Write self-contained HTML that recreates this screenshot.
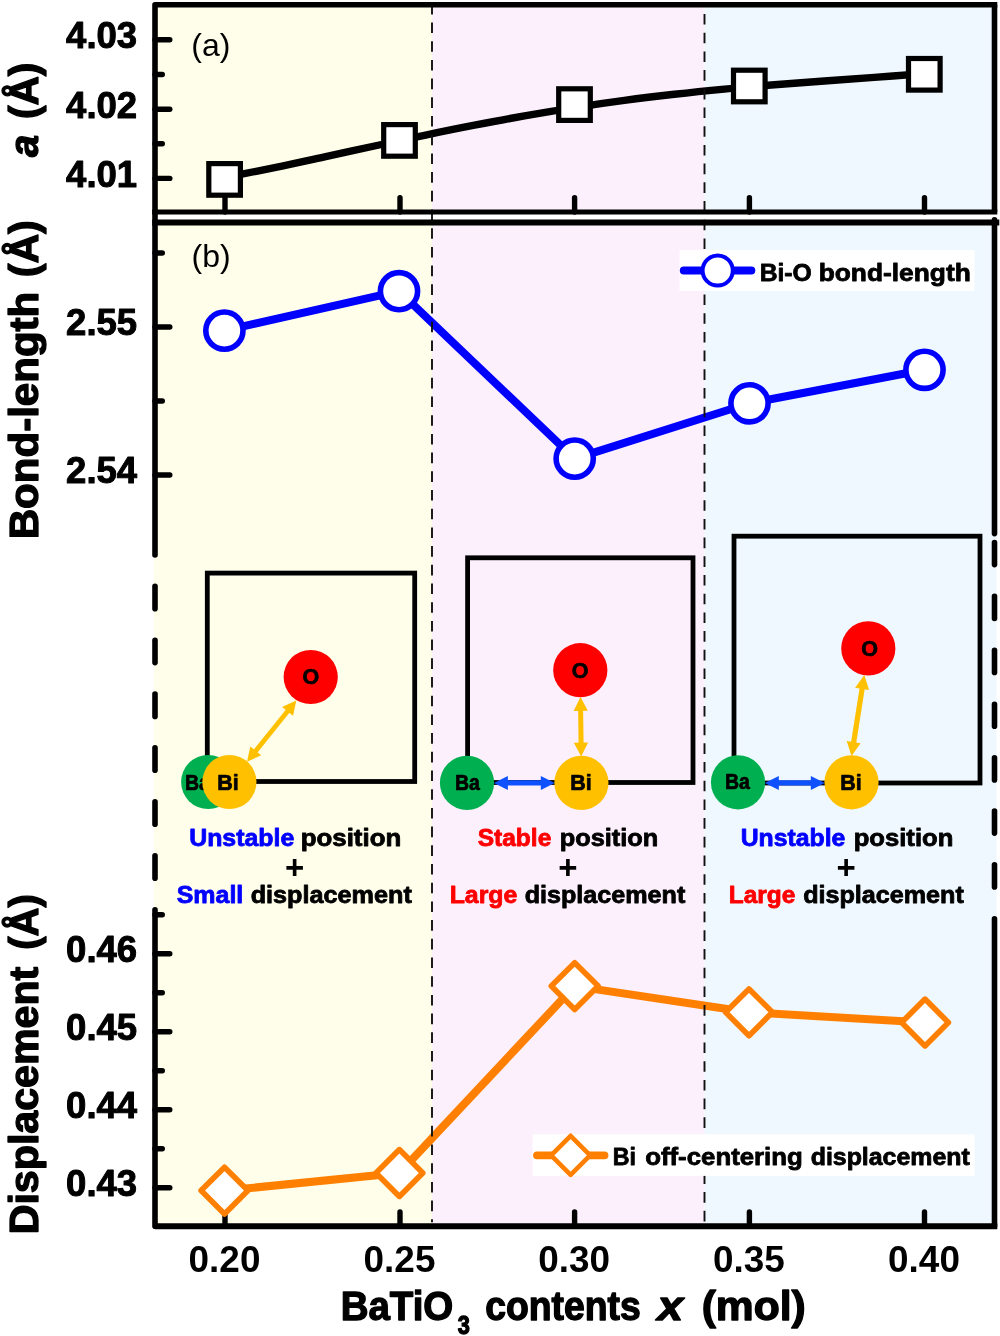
<!DOCTYPE html>
<html lang="en">
<head>
<meta charset="utf-8">
<title>Lattice parameter, Bi-O bond-length and Bi off-centering displacement vs BaTiO3 contents</title>
<style>
html,body{margin:0;padding:0;background:#fff;}
body{width:1000px;height:1336px;overflow:hidden;font-family:"Liberation Sans", sans-serif;}
svg text{font-family:"Liberation Sans", sans-serif;}
</style>
</head>
<body>
<svg width="1000" height="1336" viewBox="0 0 1000 1336" font-family='"Liberation Sans", sans-serif' style="display:block">
<rect x="0" y="0" width="1000" height="1336" fill="#ffffff"/>
<rect x="154.0" y="4.8" width="278.0" height="1221.5" fill="#fefeea"/>
<rect x="432.0" y="4.8" width="272.5" height="1221.5" fill="#fcf0fc"/>
<rect x="704.5" y="4.8" width="292.0" height="1221.5" fill="#eff8fe"/>
<rect x="152.2" y="212.0" width="845.1" height="10.599999999999994" fill="#fff"/>
<path d="M224.6,177.5 C232.9,175.8 257.9,171.0 274.6,167.6 C291.3,164.2 308.0,160.5 324.6,156.9 C341.2,153.3 357.9,149.6 374.5,146.0 C391.1,142.4 407.8,138.8 424.5,135.3 C441.2,131.8 457.8,128.4 474.5,125.2 C491.2,122.0 507.9,118.8 524.5,115.9 C541.1,113.0 557.8,110.2 574.4,107.6 C591.0,105.0 607.7,102.6 624.4,100.4 C641.1,98.2 657.7,96.2 674.4,94.3 C691.1,92.4 707.7,90.7 724.4,89.1 C741.1,87.5 757.8,86.1 774.4,84.8 C791.0,83.5 807.6,82.2 824.3,81.0 C840.9,79.8 857.6,78.6 874.3,77.4 C891.0,76.2 916.0,74.2 924.3,73.6" fill="none" stroke="#000" stroke-width="7.4"/>
<polyline points="224.4,330.6 399.0,291.2 574.7,458.6 749.5,403.3 924.5,369.8" fill="none" stroke="#0000ff" stroke-width="8" stroke-linejoin="round"/>
<polyline points="224.5,1190.6 399.4,1173.0 574.7,986.1 749.0,1012.3 925.0,1022.5" fill="none" stroke="#ff8000" stroke-width="8" stroke-linejoin="round"/>
<line x1="432.0" y1="4.8" x2="432.0" y2="1222.3" stroke="#111" stroke-width="1.9" stroke-dasharray="10.6 8.1" stroke-dashoffset="1.00"/>
<line x1="704.5" y1="4.8" x2="704.5" y2="1222.3" stroke="#111" stroke-width="1.9" stroke-dasharray="10.6 8.1" stroke-dashoffset="9.50"/>
<rect x="679.5" y="249.9" width="295" height="41" fill="#ffffff"/>
<rect x="532.5" y="1134.3" width="442" height="41.6" fill="#ffffff"/>
<line x1="155.0" y1="39.7" x2="169.8" y2="39.7" stroke="#000" stroke-width="5.4" stroke-linecap="round"/>
<line x1="155.0" y1="109.2" x2="169.8" y2="109.2" stroke="#000" stroke-width="5.4" stroke-linecap="round"/>
<line x1="155.0" y1="178.4" x2="169.8" y2="178.4" stroke="#000" stroke-width="5.4" stroke-linecap="round"/>
<line x1="155.0" y1="74.5" x2="162.3" y2="74.5" stroke="#000" stroke-width="5.4" stroke-linecap="round"/>
<line x1="155.0" y1="143.7" x2="162.3" y2="143.7" stroke="#000" stroke-width="5.4" stroke-linecap="round"/>
<line x1="155.0" y1="327.0" x2="169.8" y2="327.0" stroke="#000" stroke-width="5.4" stroke-linecap="round"/>
<line x1="155.0" y1="475.0" x2="169.8" y2="475.0" stroke="#000" stroke-width="5.4" stroke-linecap="round"/>
<line x1="155.0" y1="253.0" x2="162.3" y2="253.0" stroke="#000" stroke-width="5.4" stroke-linecap="round"/>
<line x1="155.0" y1="401.0" x2="162.3" y2="401.0" stroke="#000" stroke-width="5.4" stroke-linecap="round"/>
<line x1="155.0" y1="953.8" x2="169.8" y2="953.8" stroke="#000" stroke-width="5.4" stroke-linecap="round"/>
<line x1="155.0" y1="1031.8" x2="169.8" y2="1031.8" stroke="#000" stroke-width="5.4" stroke-linecap="round"/>
<line x1="155.0" y1="1109.8" x2="169.8" y2="1109.8" stroke="#000" stroke-width="5.4" stroke-linecap="round"/>
<line x1="155.0" y1="1187.8" x2="169.8" y2="1187.8" stroke="#000" stroke-width="5.4" stroke-linecap="round"/>
<line x1="155.0" y1="914.8" x2="162.3" y2="914.8" stroke="#000" stroke-width="5.4" stroke-linecap="round"/>
<line x1="155.0" y1="992.8" x2="162.3" y2="992.8" stroke="#000" stroke-width="5.4" stroke-linecap="round"/>
<line x1="155.0" y1="1070.8" x2="162.3" y2="1070.8" stroke="#000" stroke-width="5.4" stroke-linecap="round"/>
<line x1="155.0" y1="1148.8" x2="162.3" y2="1148.8" stroke="#000" stroke-width="5.4" stroke-linecap="round"/>
<line x1="225.0" y1="212.0" x2="225.0" y2="197.7" stroke="#000" stroke-width="5.4" stroke-linecap="round"/>
<line x1="225.0" y1="1226.3" x2="225.0" y2="1212.0" stroke="#000" stroke-width="5.4" stroke-linecap="round"/>
<line x1="400.0" y1="212.0" x2="400.0" y2="197.7" stroke="#000" stroke-width="5.4" stroke-linecap="round"/>
<line x1="400.0" y1="1226.3" x2="400.0" y2="1212.0" stroke="#000" stroke-width="5.4" stroke-linecap="round"/>
<line x1="574.6" y1="212.0" x2="574.6" y2="197.7" stroke="#000" stroke-width="5.4" stroke-linecap="round"/>
<line x1="574.6" y1="1226.3" x2="574.6" y2="1212.0" stroke="#000" stroke-width="5.4" stroke-linecap="round"/>
<line x1="749.4" y1="212.0" x2="749.4" y2="197.7" stroke="#000" stroke-width="5.4" stroke-linecap="round"/>
<line x1="749.4" y1="1226.3" x2="749.4" y2="1212.0" stroke="#000" stroke-width="5.4" stroke-linecap="round"/>
<line x1="924.5" y1="212.0" x2="924.5" y2="197.7" stroke="#000" stroke-width="5.4" stroke-linecap="round"/>
<line x1="924.5" y1="1226.3" x2="924.5" y2="1212.0" stroke="#000" stroke-width="5.4" stroke-linecap="round"/>
<rect x="208.79999999999998" y="163.6" width="31.6" height="31.6" fill="#fff" stroke="#000" stroke-width="5.2"/>
<rect x="383.7" y="124.60000000000001" width="31.6" height="31.6" fill="#fff" stroke="#000" stroke-width="5.2"/>
<rect x="558.7" y="88.8" width="31.6" height="31.6" fill="#fff" stroke="#000" stroke-width="5.2"/>
<rect x="733.5" y="70.2" width="31.6" height="31.6" fill="#fff" stroke="#000" stroke-width="5.2"/>
<rect x="908.5" y="58.5" width="31.6" height="31.6" fill="#fff" stroke="#000" stroke-width="5.2"/>
<circle cx="224.4" cy="330.6" r="18.6" fill="#fff" stroke="#0000ff" stroke-width="5.6"/>
<circle cx="399.0" cy="291.2" r="18.6" fill="#fff" stroke="#0000ff" stroke-width="5.6"/>
<circle cx="574.7" cy="458.6" r="18.6" fill="#fff" stroke="#0000ff" stroke-width="5.6"/>
<circle cx="749.5" cy="403.3" r="18.6" fill="#fff" stroke="#0000ff" stroke-width="5.6"/>
<circle cx="924.5" cy="369.8" r="18.6" fill="#fff" stroke="#0000ff" stroke-width="5.6"/>
<path d="M224.5,1167.1999999999998 L247.9,1190.6 L224.5,1214.0 L201.1,1190.6 Z" fill="#fff" stroke="#ff8000" stroke-width="5.6" stroke-linejoin="round"/>
<path d="M399.4,1149.6 L422.79999999999995,1173.0 L399.4,1196.4 L376.0,1173.0 Z" fill="#fff" stroke="#ff8000" stroke-width="5.6" stroke-linejoin="round"/>
<path d="M574.7,962.7 L598.1,986.1 L574.7,1009.5 L551.3000000000001,986.1 Z" fill="#fff" stroke="#ff8000" stroke-width="5.6" stroke-linejoin="round"/>
<path d="M749.0,988.9 L772.4,1012.3 L749.0,1035.7 L725.6,1012.3 Z" fill="#fff" stroke="#ff8000" stroke-width="5.6" stroke-linejoin="round"/>
<path d="M925.0,999.1 L948.4,1022.5 L925.0,1045.9 L901.6,1022.5 Z" fill="#fff" stroke="#ff8000" stroke-width="5.6" stroke-linejoin="round"/>
<line x1="155.0" y1="4.8" x2="997.3" y2="4.8" stroke="#000" stroke-width="5.6"/>
<line x1="152.2" y1="212.0" x2="997.3" y2="212.0" stroke="#000" stroke-width="5.2"/>
<line x1="152.2" y1="222.6" x2="999.3" y2="222.6" stroke="#000" stroke-width="6"/>
<line x1="155.0" y1="1226.3" x2="997.3" y2="1226.3" stroke="#000" stroke-width="6"/>
<line x1="155.0" y1="4.8" x2="155.0" y2="555" stroke="#000" stroke-width="5.6" stroke-linecap="round"/>
<line x1="155.0" y1="909.7" x2="155.0" y2="1226.3" stroke="#000" stroke-width="5.6" stroke-linecap="round"/>
<line x1="155.0" y1="586.4" x2="155.0" y2="608.8000000000001" stroke="#000" stroke-width="5.6" stroke-linecap="round"/>
<line x1="155.0" y1="640.1999999999999" x2="155.0" y2="662.6" stroke="#000" stroke-width="5.6" stroke-linecap="round"/>
<line x1="155.0" y1="694.0" x2="155.0" y2="716.4000000000001" stroke="#000" stroke-width="5.6" stroke-linecap="round"/>
<line x1="155.0" y1="747.8" x2="155.0" y2="770.2" stroke="#000" stroke-width="5.6" stroke-linecap="round"/>
<line x1="155.0" y1="801.8" x2="155.0" y2="824.2" stroke="#000" stroke-width="5.6" stroke-linecap="round"/>
<line x1="155.0" y1="855.8" x2="155.0" y2="878.2" stroke="#000" stroke-width="5.6" stroke-linecap="round"/>
<line x1="994.5" y1="4.8" x2="994.5" y2="212.0" stroke="#000" stroke-width="5.6"/>
<line x1="994.5" y1="219.79999999999998" x2="994.5" y2="533.6" stroke="#000" stroke-width="5.6" stroke-linecap="round"/>
<line x1="994.5" y1="918.8" x2="994.5" y2="1226.3" stroke="#000" stroke-width="5.6" stroke-linecap="round"/>
<line x1="994.5" y1="542.5" x2="994.5" y2="564.6000000000001" stroke="#000" stroke-width="5.6" stroke-linecap="round"/>
<line x1="994.5" y1="596.4" x2="994.5" y2="618.5000000000001" stroke="#000" stroke-width="5.6" stroke-linecap="round"/>
<line x1="994.5" y1="650.3" x2="994.5" y2="672.4000000000001" stroke="#000" stroke-width="5.6" stroke-linecap="round"/>
<line x1="994.5" y1="704.1999999999999" x2="994.5" y2="726.3000000000001" stroke="#000" stroke-width="5.6" stroke-linecap="round"/>
<line x1="994.5" y1="757.8" x2="994.5" y2="779.9000000000001" stroke="#000" stroke-width="5.6" stroke-linecap="round"/>
<line x1="994.5" y1="811.0" x2="994.5" y2="833.1000000000001" stroke="#000" stroke-width="5.6" stroke-linecap="round"/>
<line x1="994.5" y1="864.8" x2="994.5" y2="886.9000000000001" stroke="#000" stroke-width="5.6" stroke-linecap="round"/>
<rect x="207.3" y="573.1" width="207.4" height="208.4" fill="none" stroke="#000" stroke-width="4.8"/>
<rect x="467.6" y="557.8" width="225.4" height="224.7" fill="none" stroke="#000" stroke-width="4.8"/>
<rect x="734.0" y="536.2" width="246.0" height="246.8" fill="none" stroke="#000" stroke-width="4.8"/>
<circle cx="208.2" cy="782.0" r="27.1" fill="#00b050"/>
<text x="197.5" y="790.0" font-size="21.7" text-anchor="middle" font-weight="bold" fill="#000" textLength="24.9" lengthAdjust="spacingAndGlyphs" stroke="#000" stroke-width="0.7" stroke-linejoin="round">Ba</text>
<circle cx="229.4" cy="782.0" r="27.1" fill="#ffc000"/>
<text x="227.9" y="790.0" font-size="21.7" text-anchor="middle" font-weight="bold" fill="#000" textLength="21.5" lengthAdjust="spacingAndGlyphs" stroke="#000" stroke-width="0.7" stroke-linejoin="round">Bi</text>
<circle cx="310.7" cy="677.0" r="27.1" fill="#ff0000"/>
<text x="310.8" y="683.8" font-size="21.5" text-anchor="middle" font-weight="bold" fill="#000" stroke="#000" stroke-width="0.7" stroke-linejoin="round">O</text>
<line x1="254.9" y1="752.0" x2="288.4" y2="710.2" stroke="#ffc000" stroke-width="4.7"/>
<path d="M247.0,761.8 L261.2,755.3 L250.3,746.5 Z" fill="#ffc000"/>
<path d="M296.3,700.4 L293.0,715.7 L282.1,706.9 Z" fill="#ffc000"/>
<line x1="506.5" y1="782.9" x2="542.2" y2="782.9" stroke="#0f50ff" stroke-width="5.3"/>
<path d="M493.9,782.9 L507.9,789.9 L507.9,775.9 Z" fill="#0f50ff"/>
<path d="M554.8,782.9 L540.8,789.9 L540.8,775.9 Z" fill="#0f50ff"/>
<circle cx="467.0" cy="782.9" r="27.1" fill="#00b050"/>
<text x="467.4" y="790.0" font-size="21.7" text-anchor="middle" font-weight="bold" fill="#000" textLength="24.9" lengthAdjust="spacingAndGlyphs" stroke="#000" stroke-width="0.7" stroke-linejoin="round">Ba</text>
<circle cx="581.4" cy="782.9" r="27.1" fill="#ffc000"/>
<text x="581.0" y="790.0" font-size="21.7" text-anchor="middle" font-weight="bold" fill="#000" textLength="21.5" lengthAdjust="spacingAndGlyphs" stroke="#000" stroke-width="0.7" stroke-linejoin="round">Bi</text>
<circle cx="580.3" cy="670.2" r="27.1" fill="#ff0000"/>
<text x="580.05" y="678.4" font-size="21.5" text-anchor="middle" font-weight="bold" fill="#000" stroke="#000" stroke-width="0.7" stroke-linejoin="round">O</text>
<line x1="581.1" y1="744.0" x2="580.6" y2="709.4" stroke="#ffc000" stroke-width="5.0"/>
<path d="M581.2,756.4 L588.1,742.5 L573.9,742.7 Z" fill="#ffc000"/>
<path d="M580.5,697.0 L587.8,710.7 L573.6,710.9 Z" fill="#ffc000"/>
<line x1="777.4" y1="782.9" x2="812.2" y2="782.9" stroke="#0f50ff" stroke-width="5.3"/>
<path d="M764.8,782.9 L778.8,789.9 L778.8,775.9 Z" fill="#0f50ff"/>
<path d="M824.8,782.9 L810.8,789.9 L810.8,775.9 Z" fill="#0f50ff"/>
<circle cx="738.0" cy="782.3" r="27.1" fill="#00b050"/>
<text x="737.5" y="788.9" font-size="21.7" text-anchor="middle" font-weight="bold" fill="#000" textLength="24.9" lengthAdjust="spacingAndGlyphs" stroke="#000" stroke-width="0.7" stroke-linejoin="round">Ba</text>
<circle cx="851.5" cy="782.3" r="27.1" fill="#ffc000"/>
<text x="851.1" y="790.0" font-size="21.7" text-anchor="middle" font-weight="bold" fill="#000" textLength="21.5" lengthAdjust="spacingAndGlyphs" stroke="#000" stroke-width="0.7" stroke-linejoin="round">Bi</text>
<circle cx="868.3" cy="648.4" r="27.1" fill="#ff0000"/>
<text x="869.7" y="656.2" font-size="21.5" text-anchor="middle" font-weight="bold" fill="#000" stroke="#000" stroke-width="0.7" stroke-linejoin="round">O</text>
<line x1="853.5" y1="743.5" x2="862.3" y2="687.5" stroke="#ffc000" stroke-width="5.2"/>
<path d="M851.5,755.9 L860.7,743.2 L846.7,741.0 Z" fill="#ffc000"/>
<path d="M864.3,675.1 L869.1,690.0 L855.1,687.8 Z" fill="#ffc000"/>
<text y="846.4" font-size="24.0" font-weight="bold" stroke="#000" stroke-width="0.8" stroke-linejoin="round"><tspan x="189.19" textLength="105.12" lengthAdjust="spacingAndGlyphs" fill="#0000ff" stroke="#0000ff">Unstable</tspan> <tspan x="300.68" textLength="100.64" lengthAdjust="spacingAndGlyphs">position</tspan></text>
<text x="294.6" y="878.6" font-size="33" font-weight="bold" text-anchor="middle">+</text>
<text y="902.6" font-size="24.0" font-weight="bold" stroke="#000" stroke-width="0.8" stroke-linejoin="round"><tspan x="176.70" textLength="66.62" lengthAdjust="spacingAndGlyphs" fill="#0000ff" stroke="#0000ff">Small</tspan> <tspan x="250.70" textLength="161.10" lengthAdjust="spacingAndGlyphs">displacement</tspan></text>
<text y="846.4" font-size="24.0" font-weight="bold" stroke="#000" stroke-width="0.8" stroke-linejoin="round"><tspan x="477.70" textLength="73.60" lengthAdjust="spacingAndGlyphs" fill="#ff0000" stroke="#ff0000">Stable</tspan> <tspan x="559.68" textLength="98.62" lengthAdjust="spacingAndGlyphs">position</tspan></text>
<text x="567.9" y="878.6" font-size="33" font-weight="bold" text-anchor="middle">+</text>
<text y="902.6" font-size="24.0" font-weight="bold" stroke="#000" stroke-width="0.8" stroke-linejoin="round"><tspan x="449.68" textLength="67.64" lengthAdjust="spacingAndGlyphs" fill="#ff0000" stroke="#ff0000">Large</tspan> <tspan x="524.70" textLength="160.60" lengthAdjust="spacingAndGlyphs">displacement</tspan></text>
<text y="846.4" font-size="24.0" font-weight="bold" stroke="#000" stroke-width="0.8" stroke-linejoin="round"><tspan x="740.68" textLength="104.62" lengthAdjust="spacingAndGlyphs" fill="#0000ff" stroke="#0000ff">Unstable</tspan> <tspan x="853.69" textLength="99.63" lengthAdjust="spacingAndGlyphs">position</tspan></text>
<text x="846.2" y="878.6" font-size="33" font-weight="bold" text-anchor="middle">+</text>
<text y="902.6" font-size="24.0" font-weight="bold" stroke="#000" stroke-width="0.8" stroke-linejoin="round"><tspan x="728.69" textLength="66.62" lengthAdjust="spacingAndGlyphs" fill="#ff0000" stroke="#ff0000">Large</tspan> <tspan x="803.20" textLength="160.60" lengthAdjust="spacingAndGlyphs">displacement</tspan></text>
<line x1="683.8" y1="270.4" x2="751.3" y2="270.4" stroke="#0000ff" stroke-width="8.0" stroke-linecap="round"/>
<circle cx="717.7" cy="270.5" r="15.1" fill="#fff" stroke="#0000ff" stroke-width="4.0"/>
<text y="280.9" font-size="24.3" font-weight="bold" stroke="#000" stroke-width="0.8" stroke-linejoin="round"><tspan x="759.69" textLength="52.12" lengthAdjust="spacingAndGlyphs">Bi-O</tspan> <tspan x="818.68" textLength="152.14" lengthAdjust="spacingAndGlyphs">bond-length</tspan></text>
<line x1="537" y1="1155.3" x2="604.5" y2="1155.3" stroke="#ff8000" stroke-width="7.8" stroke-linecap="round"/>
<path d="M570.6,1135.8 L590.1,1155.3 L570.6,1174.8 L551.1,1155.3 Z" fill="#fff" stroke="#ff8000" stroke-width="4.6" stroke-linejoin="round"/>
<text y="1165.3" font-size="23.9" font-weight="bold" stroke="#000" stroke-width="0.8" stroke-linejoin="round"><tspan x="612.66" textLength="23.23" lengthAdjust="spacingAndGlyphs">Bi</tspan> <tspan x="645.20" textLength="157.61" lengthAdjust="spacingAndGlyphs">off-centering</tspan> <tspan x="810.70" textLength="159.11" lengthAdjust="spacingAndGlyphs">displacement</tspan></text>
<text x="191.3" y="55.5" font-size="32" text-anchor="start" font-weight="normal" fill="#000">(a)</text>
<text x="191.5" y="267.0" font-size="32" text-anchor="start" font-weight="normal" fill="#000">(b)</text>
<text x="137.1" y="48.2" font-size="37.0" text-anchor="end" font-weight="bold" fill="#000" textLength="71.0" lengthAdjust="spacingAndGlyphs" stroke="#000" stroke-width="1.0" stroke-linejoin="round">4.03</text>
<text x="137.1" y="117.7" font-size="37.0" text-anchor="end" font-weight="bold" fill="#000" textLength="71.0" lengthAdjust="spacingAndGlyphs" stroke="#000" stroke-width="1.0" stroke-linejoin="round">4.02</text>
<text x="137.1" y="186.9" font-size="37.0" text-anchor="end" font-weight="bold" fill="#000" textLength="71.0" lengthAdjust="spacingAndGlyphs" stroke="#000" stroke-width="1.0" stroke-linejoin="round">4.01</text>
<text x="137.1" y="335.4" font-size="37.0" text-anchor="end" font-weight="bold" fill="#000" textLength="71.0" lengthAdjust="spacingAndGlyphs" stroke="#000" stroke-width="1.0" stroke-linejoin="round">2.55</text>
<text x="137.1" y="483.4" font-size="37.0" text-anchor="end" font-weight="bold" fill="#000" textLength="71.0" lengthAdjust="spacingAndGlyphs" stroke="#000" stroke-width="1.0" stroke-linejoin="round">2.54</text>
<text x="137.1" y="962.0" font-size="37.0" text-anchor="end" font-weight="bold" fill="#000" textLength="71.0" lengthAdjust="spacingAndGlyphs" stroke="#000" stroke-width="1.0" stroke-linejoin="round">0.46</text>
<text x="137.1" y="1040.0" font-size="37.0" text-anchor="end" font-weight="bold" fill="#000" textLength="71.0" lengthAdjust="spacingAndGlyphs" stroke="#000" stroke-width="1.0" stroke-linejoin="round">0.45</text>
<text x="137.1" y="1118.0" font-size="37.0" text-anchor="end" font-weight="bold" fill="#000" textLength="71.0" lengthAdjust="spacingAndGlyphs" stroke="#000" stroke-width="1.0" stroke-linejoin="round">0.44</text>
<text x="137.1" y="1196.0" font-size="37.0" text-anchor="end" font-weight="bold" fill="#000" textLength="71.0" lengthAdjust="spacingAndGlyphs" stroke="#000" stroke-width="1.0" stroke-linejoin="round">0.43</text>
<text x="224.5" y="1272.4" font-size="36.9" text-anchor="middle" font-weight="bold" fill="#000">0.20</text>
<text x="399.5" y="1272.4" font-size="36.9" text-anchor="middle" font-weight="bold" fill="#000">0.25</text>
<text x="574.1" y="1272.4" font-size="36.9" text-anchor="middle" font-weight="bold" fill="#000">0.30</text>
<text x="748.9" y="1272.4" font-size="36.9" text-anchor="middle" font-weight="bold" fill="#000">0.35</text>
<text x="924.0" y="1272.4" font-size="36.9" text-anchor="middle" font-weight="bold" fill="#000">0.40</text>
<text transform="translate(38.4,0) rotate(-90)" y="0" font-size="40" font-weight="bold" stroke="#000" stroke-width="1.3" stroke-linejoin="round"><tspan x="-157.05" textLength="22.15" lengthAdjust="spacingAndGlyphs" font-style="italic">a</tspan> <tspan x="-119.08" textLength="56.43" lengthAdjust="spacingAndGlyphs">(Å)</tspan></text>
<text transform="translate(38.4,0) rotate(-90)" y="0" font-size="40" font-weight="bold" stroke="#000" stroke-width="1.3" stroke-linejoin="round"><tspan x="-539.31" textLength="247.62" lengthAdjust="spacingAndGlyphs">Bond-length</tspan> <tspan x="-277.33" textLength="57.17" lengthAdjust="spacingAndGlyphs">(Å)</tspan></text>
<text transform="translate(38.4,0) rotate(-90)" y="0" font-size="40" font-weight="bold" stroke="#000" stroke-width="1.3" stroke-linejoin="round"><tspan x="-1234.31" textLength="267.61" lengthAdjust="spacingAndGlyphs">Displacement</tspan> <tspan x="-949.83" textLength="55.65" lengthAdjust="spacingAndGlyphs">(Å)</tspan></text>
<text y="1320" font-size="40" font-weight="bold" stroke="#000" stroke-width="1.3" stroke-linejoin="round"><tspan x="340.66" textLength="112.66" lengthAdjust="spacingAndGlyphs">BaTiO</tspan><tspan x="457.70" textLength="12.10" lengthAdjust="spacingAndGlyphs" font-size="25" dy="13.6">3</tspan> <tspan x="485.19" textLength="155.61" lengthAdjust="spacingAndGlyphs" dy="-13.6">contents</tspan> <tspan x="657.61" textLength="25.60" lengthAdjust="spacingAndGlyphs" font-style="italic">x</tspan> <tspan x="701.68" textLength="104.15" lengthAdjust="spacingAndGlyphs">(mol)</tspan></text>
</svg>
</body>
</html>
